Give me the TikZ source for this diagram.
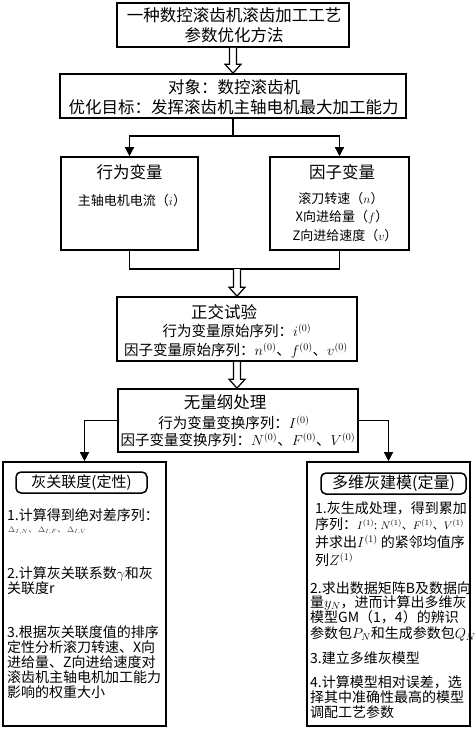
\documentclass[tikz,border=0pt]{standalone}
\usepackage{fontspec}
\setmainfont{Noto Sans CJK SC}
\usetikzlibrary{calc,arrows.meta}
\newcommand\hollowarrow[2]{\draw[hollowarr] let \p1=(#1), \p2=(#2) in
  (\x1-3.5pt,\y1) -- (\x1-3.5pt,\y2+9pt) -- (\x1-8pt,\y2+9pt) -- (\x1,\y2)
  -- (\x1+8pt,\y2+9pt) -- (\x1+3.5pt,\y2+9pt) -- (\x1+3.5pt,\y1);}
\begin{document}
\begin{tikzpicture}[x=1pt,y=-1pt,
  box/.style={draw, line width=1.6pt, inner sep=0pt, rectangle},
  hbox/.style={draw, line width=1.5pt, rounded corners=5pt, inner sep=0pt},
  conn/.style={line width=1.4pt},
  arr/.style={conn, -{Triangle[length=9pt,width=9pt]}},
  hollowarr/.style={line width=1.2pt, fill=white},
  fA/.style={font=\fontsize{16.5}{20}\selectfont},
  fB/.style={font=\fontsize{14.5}{18}\selectfont},
  fC/.style={font=\fontsize{13}{16}\selectfont},
  fD/.style={font=\fontsize{14}{15}\selectfont},
  L/.style={anchor=base west, inner sep=0pt},
  C/.style={anchor=base, inner sep=0pt}]
\useasboundingbox[fill=white] (0,0) rectangle (474,731);

% boxes
\node[box, minimum width=232pt, minimum height=44pt] (b1) at (233,25) {};
\node[box, minimum width=346pt, minimum height=44pt] (b2) at (233,96) {};
\node[box, minimum width=137pt, minimum height=93pt] (b3) at (129.5,203.5) {};
\node[box, minimum width=139pt, minimum height=93pt] (b4) at (339.5,203.5) {};
\node[box, minimum width=240pt, minimum height=64pt] (b5) at (237,329) {};
\node[box, minimum width=240pt, minimum height=63pt] (b6) at (238,420.5) {};
\node[box, minimum width=163pt, minimum height=264pt] (b7) at (84.5,594) {};
\node[box, minimum width=163pt, minimum height=264pt] (b8) at (388.5,594) {};
\node[hbox, minimum width=131pt, minimum height=21pt, font=\fontsize{15}{18}\selectfont] (h7) at (81.5,482.5) {灰关联度(定性)};
\node[hbox, minimum width=145pt, minimum height=21pt, font=\fontsize{16}{18}\selectfont] (h8) at (393.5,483.5) {多维灰建模(定量)};

% connectors
\hollowarrow{b1.south}{b2.north}
\coordinate (j1) at (233,136);
\draw[conn] (b2.south) -- (j1);
\draw[arr] (j1) -| (b3.north);
\draw[arr] (j1) -| (b4.north);
\coordinate (j2) at (237,269);
\draw[conn] (b3.south) |- (j2);
\draw[conn] (b4.south) |- (j2);
\hollowarrow{j2}{b5.north}
\hollowarrow{b5.south}{b6.north}
\draw[arr] (b6.west) -| (b7.north);
\draw[arr] (b6.east) -| (b8.north);

% texts
\node[fA, C] (t1a) at (234,21.3) {一种数控滚齿机滚齿加工工艺};
\node[fA, C] (t1b) at (234,41.3) {参数优化方法};
\node[fA, C] (t2a) at (234,93.3) {对象：数控滚齿机};
\node[fA, C] (t2b) at (233.5,113.3) {优化目标：发挥滚齿机主轴电机最大加工能力};
\node[fA, C] (t3a) at (129.5,178.3) {行为变量};
\node[fC, C] (t3b) at (132,205.9) {主轴电机电流（$i$）};
\node[fA, C] (t4a) at (342,178.3) {因子变量};
\node[fC, C] (t4b) at (341,203.9) {滚刀转速（$n$）};
\node[fC, C] (t4c) at (342,221.9) {X向进给量（$f$）};
\node[fC, C] (t4d) at (345,240.9) {Z向进给速度（$v$）};
\node[fA, C] (t5a) at (224,318.3) {正交试验};
\node[fB, C] (t5b) at (237,336.7) {行为变量原始序列：$i^{(0)}$};
\node[fB, C] (t5c) at (236,355.7) {因子变量原始序列：$n^{(0)}$、$f^{(0)}$、$v^{(0)}$};
\node[fA, C] (t6a) at (225,408.3) {无量纲处理};
\node[fB, C] (t6b) at (234,428.7) {行为变量变换序列：$I^{(0)}$};
\node[fB, C] (t6c) at (238,445.7) {因子变量变换序列：$N^{(0)}$、$F^{(0)}$、$V^{(0)}$};

% left box lines
\node[fD, L] (l1) at (7,520.3) {1.计算得到绝对差序列：};
\node[L, font=\fontsize{8}{9}\selectfont, text=black!75] (l2) at (8,532) {$\Delta_{I,N}$、 $\Delta_{I,F}$、 $\Delta_{I,V}$};
\node[fD, L] (l3) at (7,578.3) {2.计算灰关联系数$\gamma$和灰};
\node[fD, L] (l4) at (7,593.3) {关联度r};
\node[fD, L] (l5) at (7,637.3) {3.根据灰关联度值的排序};
\node[fD, L] (l6) at (7,652.3) {定性分析滚刀转速、X向};
\node[fD, L] (l7) at (7,667.3) {进给量、Z向进给速度对};
\node[fD, L] (l8) at (7,682.3) {滚齿机主轴电机加工能力};
\node[fD, L] (l9) at (7,697.3) {影响的权重大小};

% right box lines
\node[fD, L] (r1) at (315,513.3) {1.灰生成处理，得到累加};
\node[fD, L] (r2) at (315,529.3) {序列：{\fontsize{11}{12}\selectfont$I^{(1)}$: $N^{(1)}$、$F^{(1)}$、$V^{(1)}$}};
\node[fD, L] (r3) at (315,547.3) {并求出$I^{(1)}$ 的紧邻均值序};
\node[fD, L] (r4) at (315,565.3) {列$Z^{(1)}$};
\node[fD, L] (r5) at (310,593.3) {2.求出数据矩阵B及数据向};
\node[fD, L] (r6) at (310,607.3) {量$y_N$，进而计算出多维灰};
\node[fD, L] (r7) at (310,622.3) {模型GM（1，4）的辨识};
\node[fD, L] (r8) at (310,638.3) {参数包$P_N$和生成参数包$Q_N$};
\node[fD, L] (r9) at (310,663.3) {3.建立多维灰模型};
\node[fD, L] (r10) at (310,687.3) {4.计算模型相对误差，选};
\node[fD, L] (r11) at (310,702.3) {择其中准确性最高的模型};
\node[fD, L] (r12) at (310,717.3) {调配工艺参数};
\end{tikzpicture}
\end{document}
